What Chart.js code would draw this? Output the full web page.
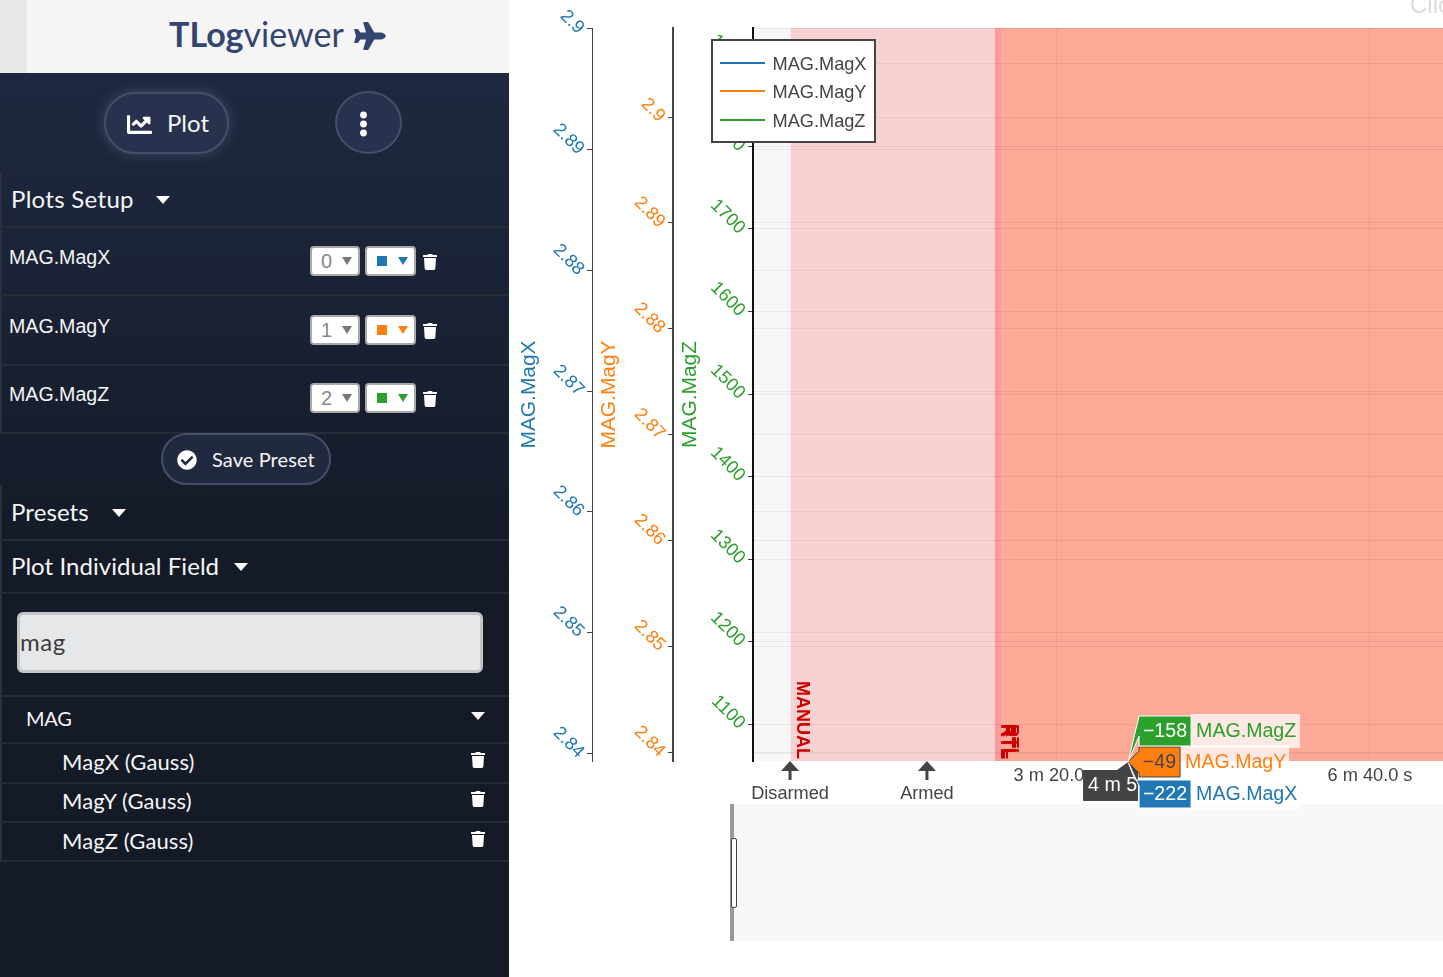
<!DOCTYPE html>
<html>
<head>
<meta charset="utf-8">
<title>TLogviewer</title>
<script src="https://cdn.jsdelivr.net/npm/chart.js@4"></script>
<style>
  html, body { margin: 0; padding: 0; background: #fff; overflow: hidden; }
  #page { position: relative; width: 1443px; height: 977px; overflow: hidden; }
  #side { position: absolute; left: 0; top: 73px; width: 509px; height: 904px;
    background: linear-gradient(#1f2840 0, #141a26 500px); font-family: Lato, sans-serif; color: #f4f5f7; letter-spacing: .1px; }
  #head { position: absolute; left: 27px; top: 0; width: 482px; height: 73px; background: #f5f5f5; }
  #headleft { position: absolute; left: 0; top: 0; width: 27px; height: 73px; background: #e6e8ea; }
  #logo { position: absolute; left: 169px; top: 13px; font: 34px Lato, sans-serif; color: #33466f; white-space: nowrap; }
  #logo b { font-weight: 700; }
  .a { position: absolute; white-space: nowrap; }
  .sep { position: absolute; left: 0; width: 509px; height: 2px; background: #262c35; }
  .bar { position: absolute; left: 0; width: 2px; background: #2a3040; }
  .btn { position: absolute; box-sizing: border-box; border: 2px solid #454f66; background: #28324e; }
  .caret { position: absolute; width: 0; height: 0; border-left: 7px solid transparent; border-right: 7px solid transparent; border-top: 8px solid #fff; }
  .sel { position: absolute; box-sizing: border-box; height: 30px; border: 2px solid #a9a9a9; border-radius: 4px; background: #fff; }
  .tri { position: absolute; top: 9px; width: 0; height: 0; border-left: 5px solid transparent; border-right: 5px solid transparent; border-top: 8px solid #777; }
  svg { position: absolute; fill: #fff; }
  #slider { position: absolute; left: 730px; top: 804px; width: 713px; height: 137px; background: #f8f8f8; }
  #sliderbar { position: absolute; left: 0; top: 0; width: 4px; height: 137px; background: #999; }
  #sliderhandle { position: absolute; left: 1px; top: 34px; box-sizing: border-box; width: 6px; height: 70px; background: #fff; border: 1px solid #444; border-radius: 2px; }
  #plot { position: absolute; left: 509px; top: 0; }
</style>
</head>
<body>
<div id="page">
  <div id="headleft"></div>
  <div id="head"></div>
  <div id="logo"><b>TLog</b>viewer</div>
  <svg style="left:354px;top:22px;fill:#33466f" width="32" height="28" viewBox="0 0 576 512"><path d="M480 192H365.71L260.61 8.06A16.014 16.014 0 0 0 246.71 0h-65.5c-10.63 0-18.3 10.17-15.38 20.39L214.86 192H112l-43.2-57.6c-3.02-4.03-7.77-6.4-12.8-6.4H16.01C5.6 128-2.04 137.78.49 147.88L32 256 .49 364.12C-2.04 374.22 5.6 384 16.01 384H56c5.04 0 9.78-2.37 12.8-6.4L112 320h102.86l-49.03 171.6c-2.92 10.22 4.75 20.4 15.38 20.4h65.5c5.74 0 11.04-3.08 13.89-8.06L365.71 320H480c35.35 0 96-28.65 96-64s-60.65-64-96-64z"/></svg>
  <div id="side"></div>
  <div id="slider"><div id="sliderbar"></div><div id="sliderhandle"></div></div>
  <canvas id="plot" width="934" height="977"></canvas>
</div>
<script>
// series (the traces sit far below the zoomed y axes)
const seriesNames = ['MAG.MagX', 'MAG.MagY', 'MAG.MagZ'];
const fieldNames = ['MagX (Gauss)', 'MagY (Gauss)', 'MagZ (Gauss)'];
const sampleTimes = [10, 100, 200, 245.9, 300, 400, 445];
const magX = [-214, -218, -220, -222, -224, -219, -216];
const magY = [-44, -46, -48, -49, -52, -50, -47];
const magZ = [-150, -153, -156, -158, -161, -157, -154];

const hoverTime = 245.9;
const hoverValues = [-222, -49, -158];
const hoverTimeLabel = '4 m 5.9 s';

// tick labels
const xTicks = [200, 400];
const magXTicks = [2.84, 2.85, 2.86, 2.87, 2.88, 2.89, 2.9];
const magYTicks = [2.84, 2.85, 2.86, 2.87, 2.88, 2.89, 2.9];
const magZTicks = [1100, 1200, 1300, 1400, 1500, 1600, 1700, 1800, 1900];

// flight modes and events
const modeStarts = [31, 161, 165];
const modeEnds = [161, 165, 446.5];
const modeLabelTimes = [31, 161, 162.5, 164.5];
const modeLabels = ['MANUAL', 'RTL', 'RTL', 'RTL'];
const eventTimes = [30.6, 117.8];
const eventLabels = ['Disarmed', 'Armed'];

const colors = ['#1f77b4', '#ff7f0e', '#2ca02c'];
const bandColors = ['#f8d2d2', '#fd9a9a', '#fca998'];
const FONT = '"Liberation Sans", Arial, sans-serif';

// ---------- sidebar ----------
const side = document.getElementById('side');
const trashPath = 'M432 32H312l-9.4-18.7A24 24 0 0 0 281.1 0H166.8a23.72 23.72 0 0 0-21.4 13.3L136 32H16A16 16 0 0 0 0 48v32a16 16 0 0 0 16 16h416a16 16 0 0 0 16-16V48a16 16 0 0 0-16-16zM53.2 467a48 48 0 0 0 47.9 45h245.8a48 48 0 0 0 47.9-45L416 128H32z';
function add(html) { side.insertAdjacentHTML('beforeend', html); }
// all y below are page coordinates, the sidebar starts at 73
function text(x, cy, size, str, extra) {
  add(`<div class="a" style="left:${x}px;top:${cy - 73 - size * 0.7}px;font-size:${size}px;line-height:${size * 1.4}px;${extra || ''}">${str}</div>`);
}
function sep(y) { add(`<div class="sep" style="top:${y - 74}px"></div>`); }
function bar(y1, y2) { add(`<div class="bar" style="top:${y1 - 73}px;height:${y2 - y1}px"></div>`); }
function caret(x, y) { add(`<div class="caret" style="left:${x}px;top:${y - 73}px"></div>`); }
function trash(x, y) { add(`<svg style="left:${x}px;top:${y - 73}px" width="14" height="16" viewBox="0 0 448 512"><path d="${trashPath}"/></svg>`); }

add(`<div class="btn" style="left:104px;top:19px;width:125px;height:62px;border-radius:31px;box-shadow:0 0 14px rgba(150,160,190,.28)"></div>`);
add(`<svg style="left:127px;top:39px" width="25" height="25" viewBox="0 0 512 512"><path d="M496 384H64V80c0-8.84-7.16-16-16-16H16C7.16 64 0 71.16 0 80v336c0 17.67 14.33 32 32 32h464c8.84 0 16-7.16 16-16v-32c0-8.84-7.16-16-16-16zM464 96H345.94c-21.38 0-32.09 25.85-16.97 40.97l32.4 32.4L288 242.75l-73.37-73.37c-12.5-12.5-32.76-12.5-45.25 0l-68.69 68.69c-6.25 6.25-6.25 16.38 0 22.63l22.62 22.62c6.25 6.25 16.38 6.25 22.63 0L192 237.25l73.37 73.37c12.5 12.5 32.76 12.5 45.25 0l96-96 32.4 32.4c15.12 15.12 40.97 4.41 40.97-16.97V112c0-8.84-7.16-16-16-16z"/></svg>`);
text(167, 123, 24, 'Plot', 'letter-spacing:0;');
add(`<div class="btn" style="left:335px;top:18px;width:67px;height:63px;border-radius:50%"></div>`);
add(`<svg style="left:358px;top:38px" width="11" height="26" viewBox="0 0 11 26"><circle cx="5.5" cy="4" r="3.4"/><circle cx="5.5" cy="13" r="3.4"/><circle cx="5.5" cy="22" r="3.4"/></svg>`);

bar(172, 432);
text(11, 199, 24, 'Plots Setup', 'letter-spacing:.3px;');
caret(155.5, 196);
sep(227);

const rowCenters = [258, 327, 395];
const rowSeps = [295, 365, 433];
seriesNames.forEach((name, i) => {
  const cy = rowCenters[i];
  text(9, cy, 19.6, name, `font-family:${FONT.replace(/"/g, "'")};letter-spacing:0;`);
  add(`<div class="sel" style="left:310px;top:${cy - 12 - 73}px;width:50px">
      <div class="a" style="left:9px;top:0;font:20px/26px ${FONT.replace(/"/g, "'")};color:#888;letter-spacing:0">${i}</div>
      <div class="tri" style="left:30px"></div></div>`);
  add(`<div class="sel" style="left:365px;top:${cy - 12 - 73}px;width:51px">
      <div class="a" style="left:10px;top:8px;width:10px;height:10px;background:${colors[i]}"></div>
      <div class="tri" style="left:31px;border-top-color:${colors[i]}"></div></div>`);
  trash(423, cy - 4);
  sep(rowSeps[i]);
});

add(`<div class="btn" style="left:161px;top:360px;width:170px;height:52px;border-radius:26px;background:#20293d"></div>`);
add(`<svg style="left:177px;top:377px" width="20" height="20" viewBox="0 0 512 512"><path d="M504 256c0 136.967-111.033 248-248 248S8 392.967 8 256 119.033 8 256 8s248 111.033 248 248zM227.314 387.314l184-184c6.248-6.248 6.248-16.379 0-22.627l-22.627-22.627c-6.248-6.249-16.379-6.25-22.628 0L216 308.118l-70.059-70.059c-6.248-6.248-16.379-6.248-22.628 0l-22.627 22.627c-6.248 6.248-6.248 16.379 0 22.627l104 104c6.249 6.249 16.379 6.249 22.628.001z"/></svg>`);
text(212, 459, 20, 'Save Preset');

bar(485, 861);
text(11, 512, 24, 'Presets');
caret(112, 509);
sep(540);
text(11, 566, 24, 'Plot Individual Field', 'letter-spacing:.05px;');
caret(233.5, 563);
sep(593);

add(`<div class="a" style="left:17px;top:${612 - 73}px;box-sizing:border-box;width:466px;height:61px;background:#e6e7e9;border:3px solid #c4c5c7;border-radius:6px"></div>`);
text(20, 642, 24, 'mag', 'color:#3d3d3d;letter-spacing:.6px;');
sep(696);

text(26, 718, 20, 'MAG', 'letter-spacing:-.3px;');
caret(471, 712);
sep(743);

const fieldCenters = [762, 801, 841];
const fieldSeps = [783, 822, 861];
fieldNames.forEach((name, i) => {
  text(62, fieldCenters[i], 22, name);
  trash(471, fieldCenters[i] - 10);
  sep(fieldSeps[i]);
});

// ---------- chart ----------
function setTicks(values) {
  return scale => { scale.ticks = values.map(v => ({ value: v })); };
}
function setWidth(w) {
  return scale => { scale.width = w; };
}
function fmtTime(v) {
  const m = Math.floor(v / 60);
  return m + ' m ' + (v - m * 60).toFixed(1) + ' s';
}
function yAxis(i, values, min, max, width, weight, titlePad, borderWidth, borderColor) {
  return {
    type: 'linear', position: 'left', weight: weight, min: min, max: max,
    afterBuildTicks: setTicks(values),
    afterFit: setWidth(width),
    border: { display: true, color: borderColor, width: borderWidth },
    grid: { color: 'rgba(0,0,0,0.055)', tickColor: '#444', tickLength: 5, tickWidth: 1 },
    ticks: {
      autoSkip: false, minRotation: -45, maxRotation: -45, padding: 6, labelOffset: 2,
      color: colors[i], font: { family: FONT, size: 18.2 },
      callback: v => String(v)
    },
    title: {
      display: true, text: seriesNames[i], color: colors[i],
      font: { family: FONT, size: 20.9 },
      padding: { top: titlePad, bottom: 0 }
    }
  };
}

const overlay = {
  id: 'overlay',
  // flight mode bands sit under the grid
  beforeDraw(chart) {
    const { ctx, chartArea: a, scales: { x } } = chart;
    ctx.save();
    ctx.fillStyle = '#f7f7f7';
    ctx.fillRect(a.left, a.top, a.right - a.left, a.bottom - a.top);
    modeStarts.forEach((s, i) => {
      const x0 = x.getPixelForValue(s);
      const x1 = x.getPixelForValue(modeEnds[i]);
      ctx.fillStyle = bandColors[i];
      ctx.fillRect(x0, a.top, x1 - x0, a.bottom - a.top);
    });
    ctx.restore();
  },
  afterDraw(chart) {
    const { ctx, chartArea: a, scales: { x } } = chart;
    ctx.save();

    // placeholder plot title, runs off the right edge
    ctx.fillStyle = '#dcdcdc';
    ctx.font = '24px ' + FONT;
    ctx.textBaseline = 'alphabetic';
    ctx.fillText('Click to enter Plot title', 901, 13);

    // mode names
    ctx.fillStyle = '#cc0000';
    ctx.font = 'bold 18px ' + FONT;
    modeLabels.forEach((label, i) => {
      ctx.save();
      ctx.translate(x.getPixelForValue(modeLabelTimes[i]) + 6, a.bottom - 2);
      ctx.rotate(Math.PI / 2);
      ctx.textAlign = 'right';
      ctx.fillText(label, 0, 0);
      ctx.restore();
    });

    // arm events under the axis
    eventLabels.forEach((label, i) => {
      const px = x.getPixelForValue(eventTimes[i]);
      ctx.fillStyle = '#444';
      ctx.beginPath();
      ctx.moveTo(px, a.bottom);
      ctx.lineTo(px + 9, a.bottom + 10);
      ctx.lineTo(px + 1.5, a.bottom + 10);
      ctx.lineTo(px + 1.5, a.bottom + 19);
      ctx.lineTo(px - 1.5, a.bottom + 19);
      ctx.lineTo(px - 1.5, a.bottom + 10);
      ctx.lineTo(px - 9, a.bottom + 10);
      ctx.closePath();
      ctx.fill();
      ctx.font = '18.2px ' + FONT;
      ctx.textAlign = 'center';
      ctx.textBaseline = 'middle';
      ctx.fillText(label, px, a.bottom + 33);
    });

    drawHover(chart);
    drawLegend(chart);
    ctx.restore();
  }
};

function poly(ctx, pts, fill, stroke) {
  ctx.beginPath();
  pts.forEach((p, i) => i ? ctx.lineTo(p[0], p[1]) : ctx.moveTo(p[0], p[1]));
  ctx.closePath();
  ctx.fillStyle = fill;
  ctx.fill();
  if (stroke) {
    ctx.strokeStyle = stroke;
    ctx.lineWidth = 1;
    ctx.stroke();
  }
}

function drawHover(chart) {
  const { ctx, chartArea: a, scales: { x } } = chart;
  const tx = x.getPixelForValue(hoverTime);
  const ty = a.bottom + 1;
  const left = tx + 11;
  ctx.font = '19.6px ' + FONT;
  ctx.textBaseline = 'middle';

  // time label, its tail covered by the value labels
  poly(ctx, [[tx, ty], [tx - 11, ty + 8], [tx - 45, ty + 8], [tx - 45, ty + 39], [tx + 10, ty + 39], [tx + 10, ty + 8]], '#444');
  ctx.fillStyle = '#fff';
  ctx.textAlign = 'left';
  ctx.fillText(hoverTimeLabel, tx - 40, ty + 24);

  // offsets from the tip for MagX, MagY, MagZ: box top, box bottom, box right, name box right, label colour
  const boxes = [
    { top: 18, bottom: 46, right: 63, nameRight: 172, ink: '#fff', edge: '#fff' },
    { top: -15, bottom: 15, right: 52, nameRight: 161, ink: '#444', edge: '#444' },
    { top: -46, bottom: -16, right: 63, nameRight: 172, ink: '#fff', edge: '#fff' }
  ];
  const order = [0, 1, 2];
  order.forEach(i => {
    const b = boxes[i];
    const cy = ty + (b.top + b.bottom) / 2;
    const r = tx + b.right;
    ctx.fillStyle = 'rgba(255,255,255,0.74)';
    ctx.fillRect(r, ty + b.top - 2, b.nameRight - b.right, b.bottom - b.top + 4);
    let pts;
    if (i === 0) pts = [[tx, ty], [left - 4, ty + b.top], [r, ty + b.top], [r, ty + b.bottom], [left, ty + b.bottom], [left, ty + b.top + 6]];
    else if (i === 1) pts = [[tx, ty], [left, ty - 11], [left, ty + b.top], [r, ty + b.top], [r, ty + b.bottom], [left, ty + b.bottom], [left, ty + 11]];
    else pts = [[tx, ty], [left, ty + b.top], [r, ty + b.top], [r, ty + b.bottom], [left, ty + b.bottom], [left, ty + b.bottom - 10]];
    poly(ctx, pts, colors[i], b.edge);
    ctx.textAlign = 'right';
    ctx.fillStyle = b.ink;
    ctx.fillText('\u2212' + Math.abs(hoverValues[i]), r - 4, cy + 1);
    ctx.textAlign = 'left';
    ctx.fillStyle = colors[i];
    ctx.fillText(seriesNames[i], r + 5, cy + 1);
  });
}

function drawLegend(chart) {
  const { ctx } = chart;
  const lx = 203, ly = 40;
  ctx.fillStyle = '#fff';
  ctx.fillRect(lx, ly, 163, 102);
  ctx.strokeStyle = '#444';
  ctx.lineWidth = 2;
  ctx.strokeRect(lx, ly, 163, 102);
  ctx.font = '18.2px ' + FONT;
  ctx.textAlign = 'left';
  ctx.textBaseline = 'middle';
  chart.data.datasets.forEach((ds, i) => {
    const cy = Math.round(ly + 22.5 + i * 28.5);
    ctx.strokeStyle = ds.borderColor;
    ctx.beginPath();
    ctx.moveTo(lx + 8, cy);
    ctx.lineTo(lx + 53, cy);
    ctx.stroke();
    ctx.fillStyle = '#444';
    ctx.fillText(ds.label, lx + 60.5, cy + 2);
  });
}

new Chart(document.getElementById('plot'), {
  type: 'line',
  data: {
    datasets: [
      { label: seriesNames[0], yAxisID: 'yX', data: sampleTimes.map((t, i) => ({ x: t, y: magX[i] })), borderColor: colors[0], borderWidth: 2, pointRadius: 0 },
      { label: seriesNames[1], yAxisID: 'yY', data: sampleTimes.map((t, i) => ({ x: t, y: magY[i] })), borderColor: colors[1], borderWidth: 2, pointRadius: 0 },
      { label: seriesNames[2], yAxisID: 'yZ', data: sampleTimes.map((t, i) => ({ x: t, y: magZ[i] })), borderColor: colors[2], borderWidth: 2, pointRadius: 0 }
    ]
  },
  options: {
    responsive: false,
    animation: false,
    layout: { padding: { top: 28 } },
    plugins: { legend: { display: false }, tooltip: { enabled: false } },
    scales: {
      x: {
        type: 'linear', min: 7, max: 446.5,
        afterBuildTicks: setTicks(xTicks),
        afterFit: scale => { scale.height = 216; },
        border: { display: false },
        grid: { color: 'rgba(0,0,0,0.055)', drawTicks: false },
        ticks: {
          autoSkip: false, maxRotation: 0, minRotation: 0, padding: 4,
          color: '#444', font: { family: FONT, size: 18.2 },
          callback: fmtTime
        }
      },
      yX: yAxis(0, magXTicks, 2.83934, 2.90008, 83, 3, 8, 1, '#444'),
      yY: yAxis(1, magYTicks, 2.83915, 2.90841, 81, 2, 5, 2, '#444'),
      yZ: yAxis(2, magZTicks, 1055.2, 1943.6, 80, 1, 5, 2, '#111')
    }
  },
  plugins: [overlay]
});
</script>
</body>
</html>
